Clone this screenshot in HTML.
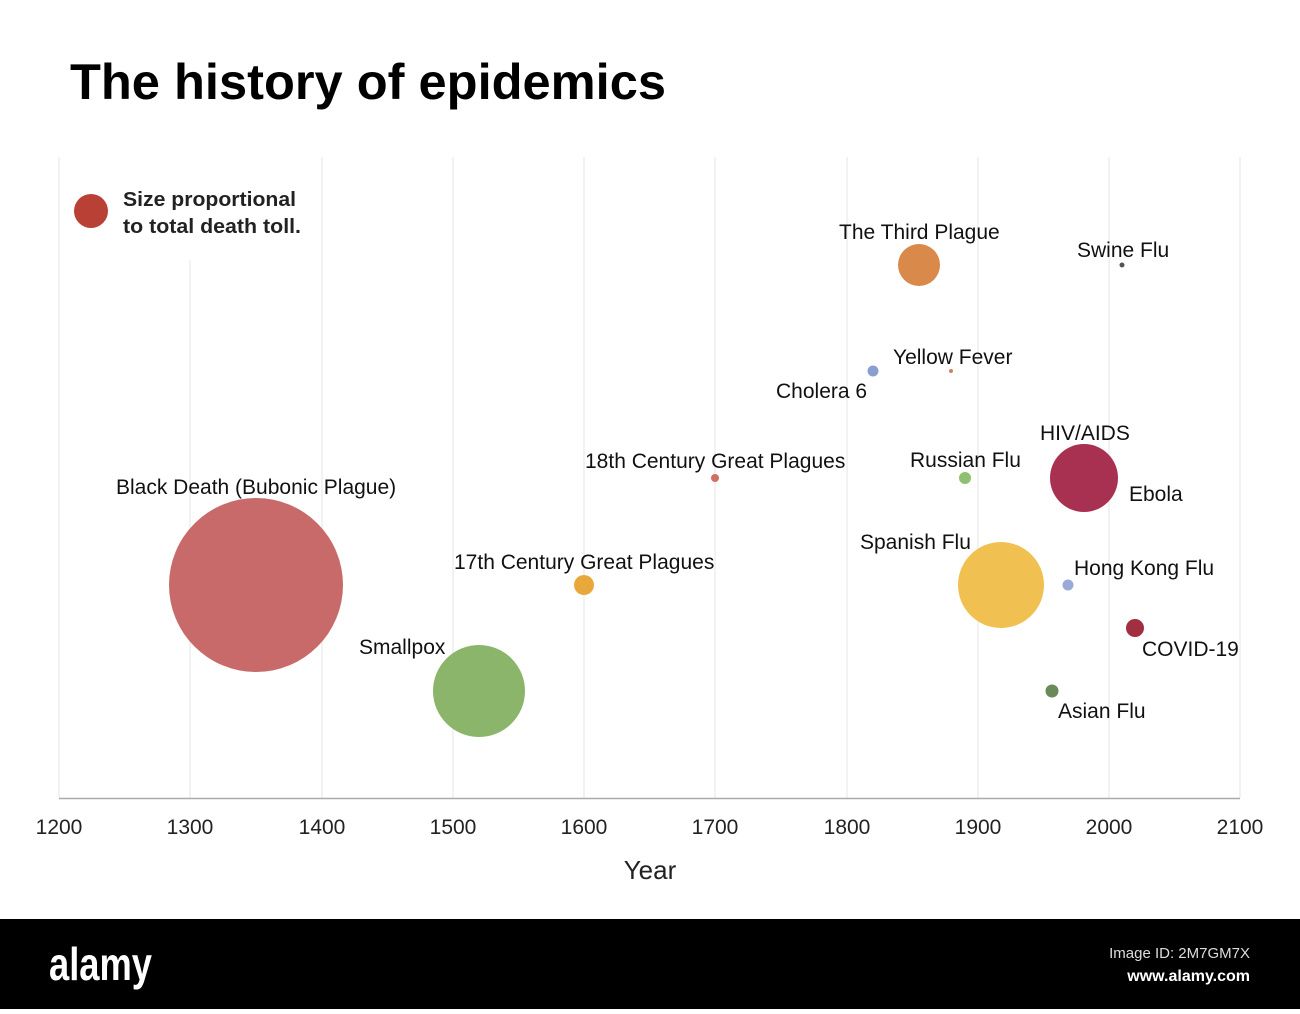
<!DOCTYPE html>
<html><head><meta charset="utf-8"><style>
body{margin:0;width:1300px;height:1009px;background:#fff;overflow:hidden;font-family:"Liberation Sans",sans-serif}
</style></head><body>
<svg width="1300" height="1009" xmlns="http://www.w3.org/2000/svg" font-family="Liberation Sans, sans-serif">
<rect width="1300" height="1009" fill="#fff"/>
<text x="70" y="99" font-size="50" font-weight="bold" fill="#000" textLength="596" lengthAdjust="spacingAndGlyphs">The history of epidemics</text>
<g stroke="#e4e4e4" stroke-width="1">
<line x1="59" y1="157" x2="59" y2="798"/><line x1="190" y1="260" x2="190" y2="798"/><line x1="322" y1="157" x2="322" y2="798"/><line x1="453" y1="157" x2="453" y2="798"/><line x1="584" y1="157" x2="584" y2="798"/><line x1="715" y1="157" x2="715" y2="798"/><line x1="847" y1="157" x2="847" y2="798"/><line x1="978" y1="157" x2="978" y2="798"/><line x1="1109" y1="157" x2="1109" y2="798"/><line x1="1240" y1="157" x2="1240" y2="798"/>
</g>
<line x1="59" y1="798.5" x2="1240" y2="798.5" stroke="#aaa" stroke-width="1.5"/>
<g font-size="21" fill="#222" text-anchor="middle">
<text x="59" y="834">1200</text><text x="190" y="834">1300</text><text x="322" y="834">1400</text><text x="453" y="834">1500</text><text x="584" y="834">1600</text><text x="715" y="834">1700</text><text x="847" y="834">1800</text><text x="978" y="834">1900</text><text x="1109" y="834">2000</text><text x="1240" y="834">2100</text>
<text x="650" y="879" font-size="26">Year</text>
</g>
<circle cx="91" cy="211" r="17" fill="#b84035"/>
<text x="123" y="206" font-size="20" font-weight="bold" fill="#222" textLength="173" lengthAdjust="spacingAndGlyphs">Size proportional</text>
<text x="123" y="233" font-size="20" font-weight="bold" fill="#222" textLength="178" lengthAdjust="spacingAndGlyphs">to total death toll.</text>
<circle cx="256" cy="585" r="87" fill="#c96a6a"/>
<circle cx="479" cy="691" r="46" fill="#8ab56a"/>
<circle cx="584" cy="585" r="10" fill="#e8a93a"/>
<circle cx="715" cy="478" r="4" fill="#d07060"/>
<circle cx="919" cy="265" r="21" fill="#d98a4a"/>
<circle cx="1122" cy="265" r="2.5" fill="#555"/>
<circle cx="873" cy="371" r="5.5" fill="#8a9fd0"/>
<circle cx="951" cy="371" r="2" fill="#d08060"/>
<circle cx="965" cy="478" r="6" fill="#8fc070"/>
<circle cx="1084" cy="478" r="34" fill="#a83050"/>
<circle cx="1001" cy="585" r="43" fill="#f0c050"/>
<circle cx="1068" cy="585" r="5.5" fill="#99aad8"/>
<circle cx="1135" cy="628" r="9" fill="#a03040"/>
<circle cx="1052" cy="691" r="6.5" fill="#6a8a5a"/>
<g font-size="21" fill="#111">
<text x="116" y="494">Black Death (Bubonic Plague)</text>
<text x="359" y="654">Smallpox</text>
<text x="454" y="569">17th Century Great Plagues</text>
<text x="585" y="468">18th Century Great Plagues</text>
<text x="839" y="239">The Third Plague</text>
<text x="1077" y="257">Swine Flu</text>
<text x="893" y="364">Yellow Fever</text>
<text x="776" y="398">Cholera 6</text>
<text x="910" y="467">Russian Flu</text>
<text x="1040" y="440">HIV/AIDS</text>
<text x="1129" y="501">Ebola</text>
<text x="860" y="549">Spanish Flu</text>
<text x="1074" y="575">Hong Kong Flu</text>
<text x="1142" y="656">COVID-19</text>
<text x="1058" y="718">Asian Flu</text>
</g>
<rect x="0" y="919" width="1300" height="90" fill="#000"/>
<text x="49" y="980" font-size="46" font-weight="bold" fill="#fff" textLength="103" lengthAdjust="spacingAndGlyphs">alamy</text>
<text x="1250" y="958" font-size="15" fill="#ddd" text-anchor="end">Image ID: 2M7GM7X</text>
<text x="1250" y="981" font-size="16" font-weight="bold" fill="#fff" text-anchor="end">www.alamy.com</text>
</svg>
</body></html>
